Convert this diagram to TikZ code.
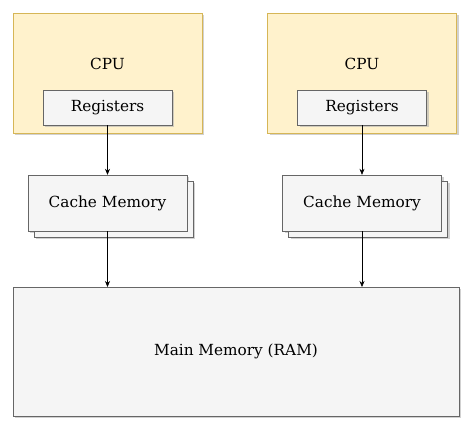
\documentclass[tikz,border=0pt]{standalone}
\usepackage{fontspec}
\setmainfont{DejaVu Serif}
\usetikzlibrary{shadows,arrows.meta}
\definecolor{cpufill}{HTML}{FFF2CC}
\definecolor{cpuline}{HTML}{D6B656}
\definecolor{memfill}{HTML}{F5F5F5}
\definecolor{memline}{HTML}{666666}
\begin{document}
\begin{tikzpicture}
  [x=1pt,y=-1pt,font=\fontsize{15.3}{18}\selectfont,
   shade/.style={drop shadow={shadow xshift=2pt,shadow yshift=-2pt,fill=black!30,opacity=.6}},
   cpubox/.style={rectangle,draw=cpuline,fill=cpufill,minimum width=189pt,minimum height=120pt,shade},
   membox/.style={rectangle,draw=memline,fill=memfill,shade},
   regbox/.style={membox,minimum width=129pt,minimum height=35pt},
   cachebox/.style={membox,minimum width=159pt,minimum height=56pt,
     general shadow={shadow xshift=8pt,shadow yshift=-8pt,fill=black!30,opacity=.6},
     copy shadow={shadow xshift=6pt,shadow yshift=-6pt}},
   link/.style={-{Stealth[length=6pt,width=5pt]},semithick}]
  \useasboundingbox (0,0) rectangle (474,432);
  \node (cpuL) [cpubox] at (107.5,73) {};
  \node (cpuLtext) at (107.5,64) {CPU};
  \node (regL) [regbox] at (107.5,107.5) {Registers};
  \node (cacheL) [cachebox] at (107.5,203) {Cache Memory};
  \node (cpuR) [cpubox] at (362,73) {};
  \node (cpuRtext) at (362,64) {CPU};
  \node (regR) [regbox] at (362,107.5) {Registers};
  \node (cacheR) [cachebox] at (362,203) {Cache Memory};
  \node (ram) [membox,minimum width=446pt,minimum height=129pt] at (236,351.5) {Main Memory (RAM)};
  \coordinate (ramL) at (107.5,287);
  \coordinate (ramR) at (362,287);

\foreach \from/\to in
{regL/cacheL,regR/cacheR}
    \draw [link] (\from) -- (\to);
\foreach \from/\to in
{cacheL/ramL,cacheR/ramR}
    \draw [link] (\from.south) -- (\to);
\end{tikzpicture}
\end{document}
